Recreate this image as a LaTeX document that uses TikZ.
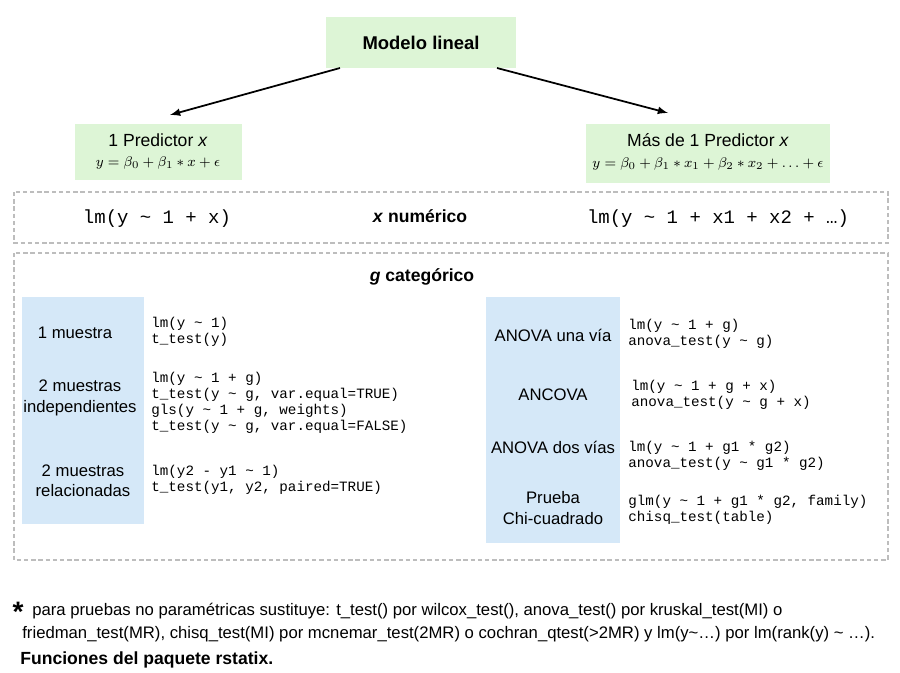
\documentclass[tikz,border=0pt]{standalone}
\usepackage{fontspec}
\setmainfont{Liberation Sans}
\setmonofont{Liberation Mono}
\usetikzlibrary{positioning}
\definecolor{verde}{HTML}{DDF5D6}
\definecolor{azul}{HTML}{D5E8F8}
\definecolor{borde}{HTML}{BDBDBD}
\tikzset{
  caja/.style={fill=verde, draw=none, minimum width=#1, align=center, inner sep=2pt},
  bloque/.style={fill=azul, draw=none, anchor=north west},
  marco/.style={draw=borde, line width=1.6pt, dash pattern=on 2.5pt off 1.6pt},
  etiq/.style={align=center, font=\fontsize{9.5}{11.5}\selectfont},
  codigo/.style={anchor=west, align=left, inner sep=0pt, font=\ttfamily\fontsize{8.1}{9.1}\selectfont},
  flecha/.style={-latex, line width=1pt}
}
\begin{document}
\begin{tikzpicture}[x=0.02cm, y=-0.02cm]
\useasboundingbox (0,0) rectangle (900,673);
% cabecera
\node[caja=3.8cm, minimum height=1.02cm, font=\bfseries\fontsize{10.5}{13}\selectfont] (modelo) at (421,42.5) {Modelo lineal};
\fill[verde] (75,124) rectangle (242,180);
\fill[verde] (586,124) rectangle (830,183);
\node[font=\fontsize{10}{12}\selectfont] (uno) at (158,140) {1 Predictor \textit{x}};
\node[font=\fontsize{8.5}{11}\selectfont] (unof) at (158,163) {$y=\beta_0+\beta_1*x+\epsilon$};
\node[font=\fontsize{10}{12}\selectfont] (mas) at (708,140) {Más de 1 Predictor \textit{x}};
\node[font=\fontsize{8}{11}\selectfont] (masf) at (708,164) {$y=\beta_0+\beta_1*x_1+\beta_2*x_2+\ldots+\epsilon$};
\coordinate (izq) at (170,115);
\coordinate (der) at (668,113);
\draw[flecha] (340,68) -- (izq);
\draw[flecha] (497,68) -- (der);
% x numerico
\draw[marco] (14,192) rectangle (888,243);
\node[font=\ttfamily\fontsize{10.8}{12}\selectfont] (lmx) at (157,219) {lm(y \textasciitilde{} 1 + x)};
\node[font=\bfseries\fontsize{10}{12}\selectfont] (xnum) at (420,216) {\textit{x} numérico};
\node[font=\ttfamily\fontsize{10.8}{12}\selectfont] (lmxx) at (718,219) {lm(y \textasciitilde{} 1 + x1 + x2 + …)};
% g categorico
\draw[marco] (14,253) rectangle (888,560);
\node[font=\bfseries\fontsize{10}{12}\selectfont] (gcat) at (422,277) {\textit{g} categórico};
\fill[azul] (22,297) rectangle (144,524);
\fill[azul] (486,297) rectangle (620,543);
\node[etiq] (m1) at (75,333) {1 muestra};
\node[etiq] (m2) at (80,398) {2 muestras\\independientes};
\node[etiq] (m3) at (83,481) {2 muestras\\relacionadas};
\node[codigo] (c1) at (151,332) {lm(y \textasciitilde{} 1)\\t\_test(y)};
\node[codigo] (c2) at (151,402.5) {lm(y \textasciitilde{} 1 + g)\\t\_test(y \textasciitilde{} g, var.equal=TRUE)\\gls(y \textasciitilde{} 1 + g, weights)\\t\_test(y \textasciitilde{} g, var.equal=FALSE)};
\node[codigo] (c3) at (151,480) {lm(y2 - y1 \textasciitilde{} 1)\\t\_test(y1, y2, paired=TRUE)};
\node[etiq] (a1) at (553,335) {ANOVA una vía};
\node[etiq] (a2) at (553,395) {ANCOVA};
\node[etiq] (a3) at (553,447) {ANOVA dos vías};
\node[etiq] (a4) at (553,508) {Prueba\\Chi-cuadrado};
\node[codigo] (d1) at (628,333.5) {lm(y \textasciitilde{} 1 + g)\\anova\_test(y \textasciitilde{} g)};
\node[codigo] (d2) at (631,395) {lm(y \textasciitilde{} 1 + g + x)\\anova\_test(y \textasciitilde{} g + x)};
\node[codigo] (d3) at (628,455.5) {lm(y \textasciitilde{} 1 + g1 * g2)\\anova\_test(y \textasciitilde{} g1 * g2)};
\node[codigo] (d4) at (628,509.5) {glm(y \textasciitilde{} 1 + g1 * g2, family)\\chisq\_test(table)};
% nota
\node[font=\bfseries\fontsize{16}{16}\selectfont] (ast) at (18,612) {*};
\node[anchor=west, inner sep=0pt, font=\fontsize{9.5}{11}\selectfont] (n1) at (32,611) {para pruebas no paramétricas sustituye: t\_test() por wilcox\_test(), anova\_test() por kruskal\_test(MI) o};
\node[anchor=west, inner sep=0pt, font=\fontsize{9.5}{11}\selectfont] (n2) at (22,634) {friedman\_test(MR), chisq\_test(MI) por mcnemar\_test(2MR) o cochran\_qtest(>2MR) y lm(y\textasciitilde…) por lm(rank(y) \textasciitilde{} …).};
\node[anchor=west, inner sep=0pt, font=\bfseries\fontsize{10}{12}\selectfont] (fn) at (20,660) {Funciones del paquete rstatix.};
\end{tikzpicture}
\end{document}
